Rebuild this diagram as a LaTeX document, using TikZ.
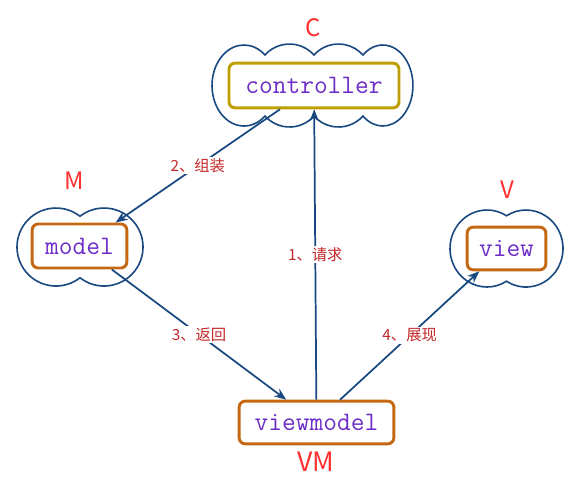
\documentclass[tikz,border=0pt]{standalone}
\usepackage{fontspec}
\newfontfamily\cjk{Noto Sans CJK SC}
\usetikzlibrary{arrows.meta}
\definecolor{cloudblue}{RGB}{24,72,128}
\definecolor{ctrlgold}{RGB}{190,158,0}
\definecolor{boxbrown}{RGB}{196,104,20}
\definecolor{textpurple}{RGB}{108,44,200}
\definecolor{labelred}{RGB}{196,40,40}
\definecolor{letterred}{RGB}{255,48,48}
\tikzstyle{box}=[draw=boxbrown,line width=2.2pt,rounded corners=4.5pt,inner sep=0pt,text=textpurple,font=\ttfamily\fontsize{20}{24}\selectfont]
\tikzstyle{cloudline}=[draw=cloudblue,line width=1.2pt]
\tikzstyle{edge}=[draw=cloudblue,line width=1.3pt,-{Stealth[length=9pt,width=7pt]}]
\tikzstyle{edgelabel}=[fill=white,inner sep=1pt,text=labelred,font=\cjk\fontsize{11.5}{14}\selectfont]
\tikzstyle{letter}=[text=letterred,font=\cjk\fontsize{18}{22}\selectfont]

\begin{document}
\begin{tikzpicture}[x=0.75pt,y=0.75pt]
    \path[use as bounding box] (0,0) rectangle (571,486);

    % clouds
    \path[cloudline] (265,431) arc[start angle=138.3,end angle=41.7,radius=32.8]
        arc[start angle=138.3,end angle=41.7,radius=32.8]
        arc[start angle=131.1,end angle=-131.1,x radius=30.16,y radius=40.5]
        arc[start angle=-41.7,end angle=-138.3,radius=32.8]
        arc[start angle=-41.7,end angle=-138.3,radius=32.8]
        arc[start angle=-48.9,end angle=-311.1,x radius=31.97,y radius=40.5] -- cycle;
    \path[cloudline] (80,269.7) arc[start angle=52,end angle=308,radius=39]
        arc[start angle=-128,end angle=128,radius=39] -- cycle;
    \path[cloudline] (506.5,270.2) arc[start angle=58.2,end angle=301.8,x radius=37,y radius=38.5]
        arc[start angle=-121.8,end angle=121.8,x radius=37,y radius=38.5] -- cycle;

    \node[box,draw=ctrlgold,minimum width=127.5pt,minimum height=33.5pt] (ctrl) at (314,400.5) {controller};
    \node[box,minimum width=71pt,minimum height=33pt] (model) at (79.5,240) {model};
    \node[box,minimum width=59pt,minimum height=32pt] (view) at (506.5,237.5) {view};
    \node[box,minimum width=116pt,minimum height=32pt] (vm) at (316.5,63.5) {viewmodel};

    \node[letter] (clabel) at (313,458) {C};
    \node[letter] (mlabel) at (74,305) {M};
    \node[letter] (vlabel) at (507,296) {V};
    \node[letter,font=\cjk\fontsize{20}{24}\selectfont] (vmlabel) at (316,24) {VM};

    \path[edge] (vm) -- node[edgelabel] {1、请求} (ctrl);
    \path[edge] (ctrl.215) -- node[edgelabel] {2、组装} (model.33);
    \path[edge] (model.-36) -- node[edgelabel] {3、返回} (vm.143);
    \path[edge] (vm.44) -- node[edgelabel] {4、展现} (view.220);
\end{tikzpicture}
\end{document}
